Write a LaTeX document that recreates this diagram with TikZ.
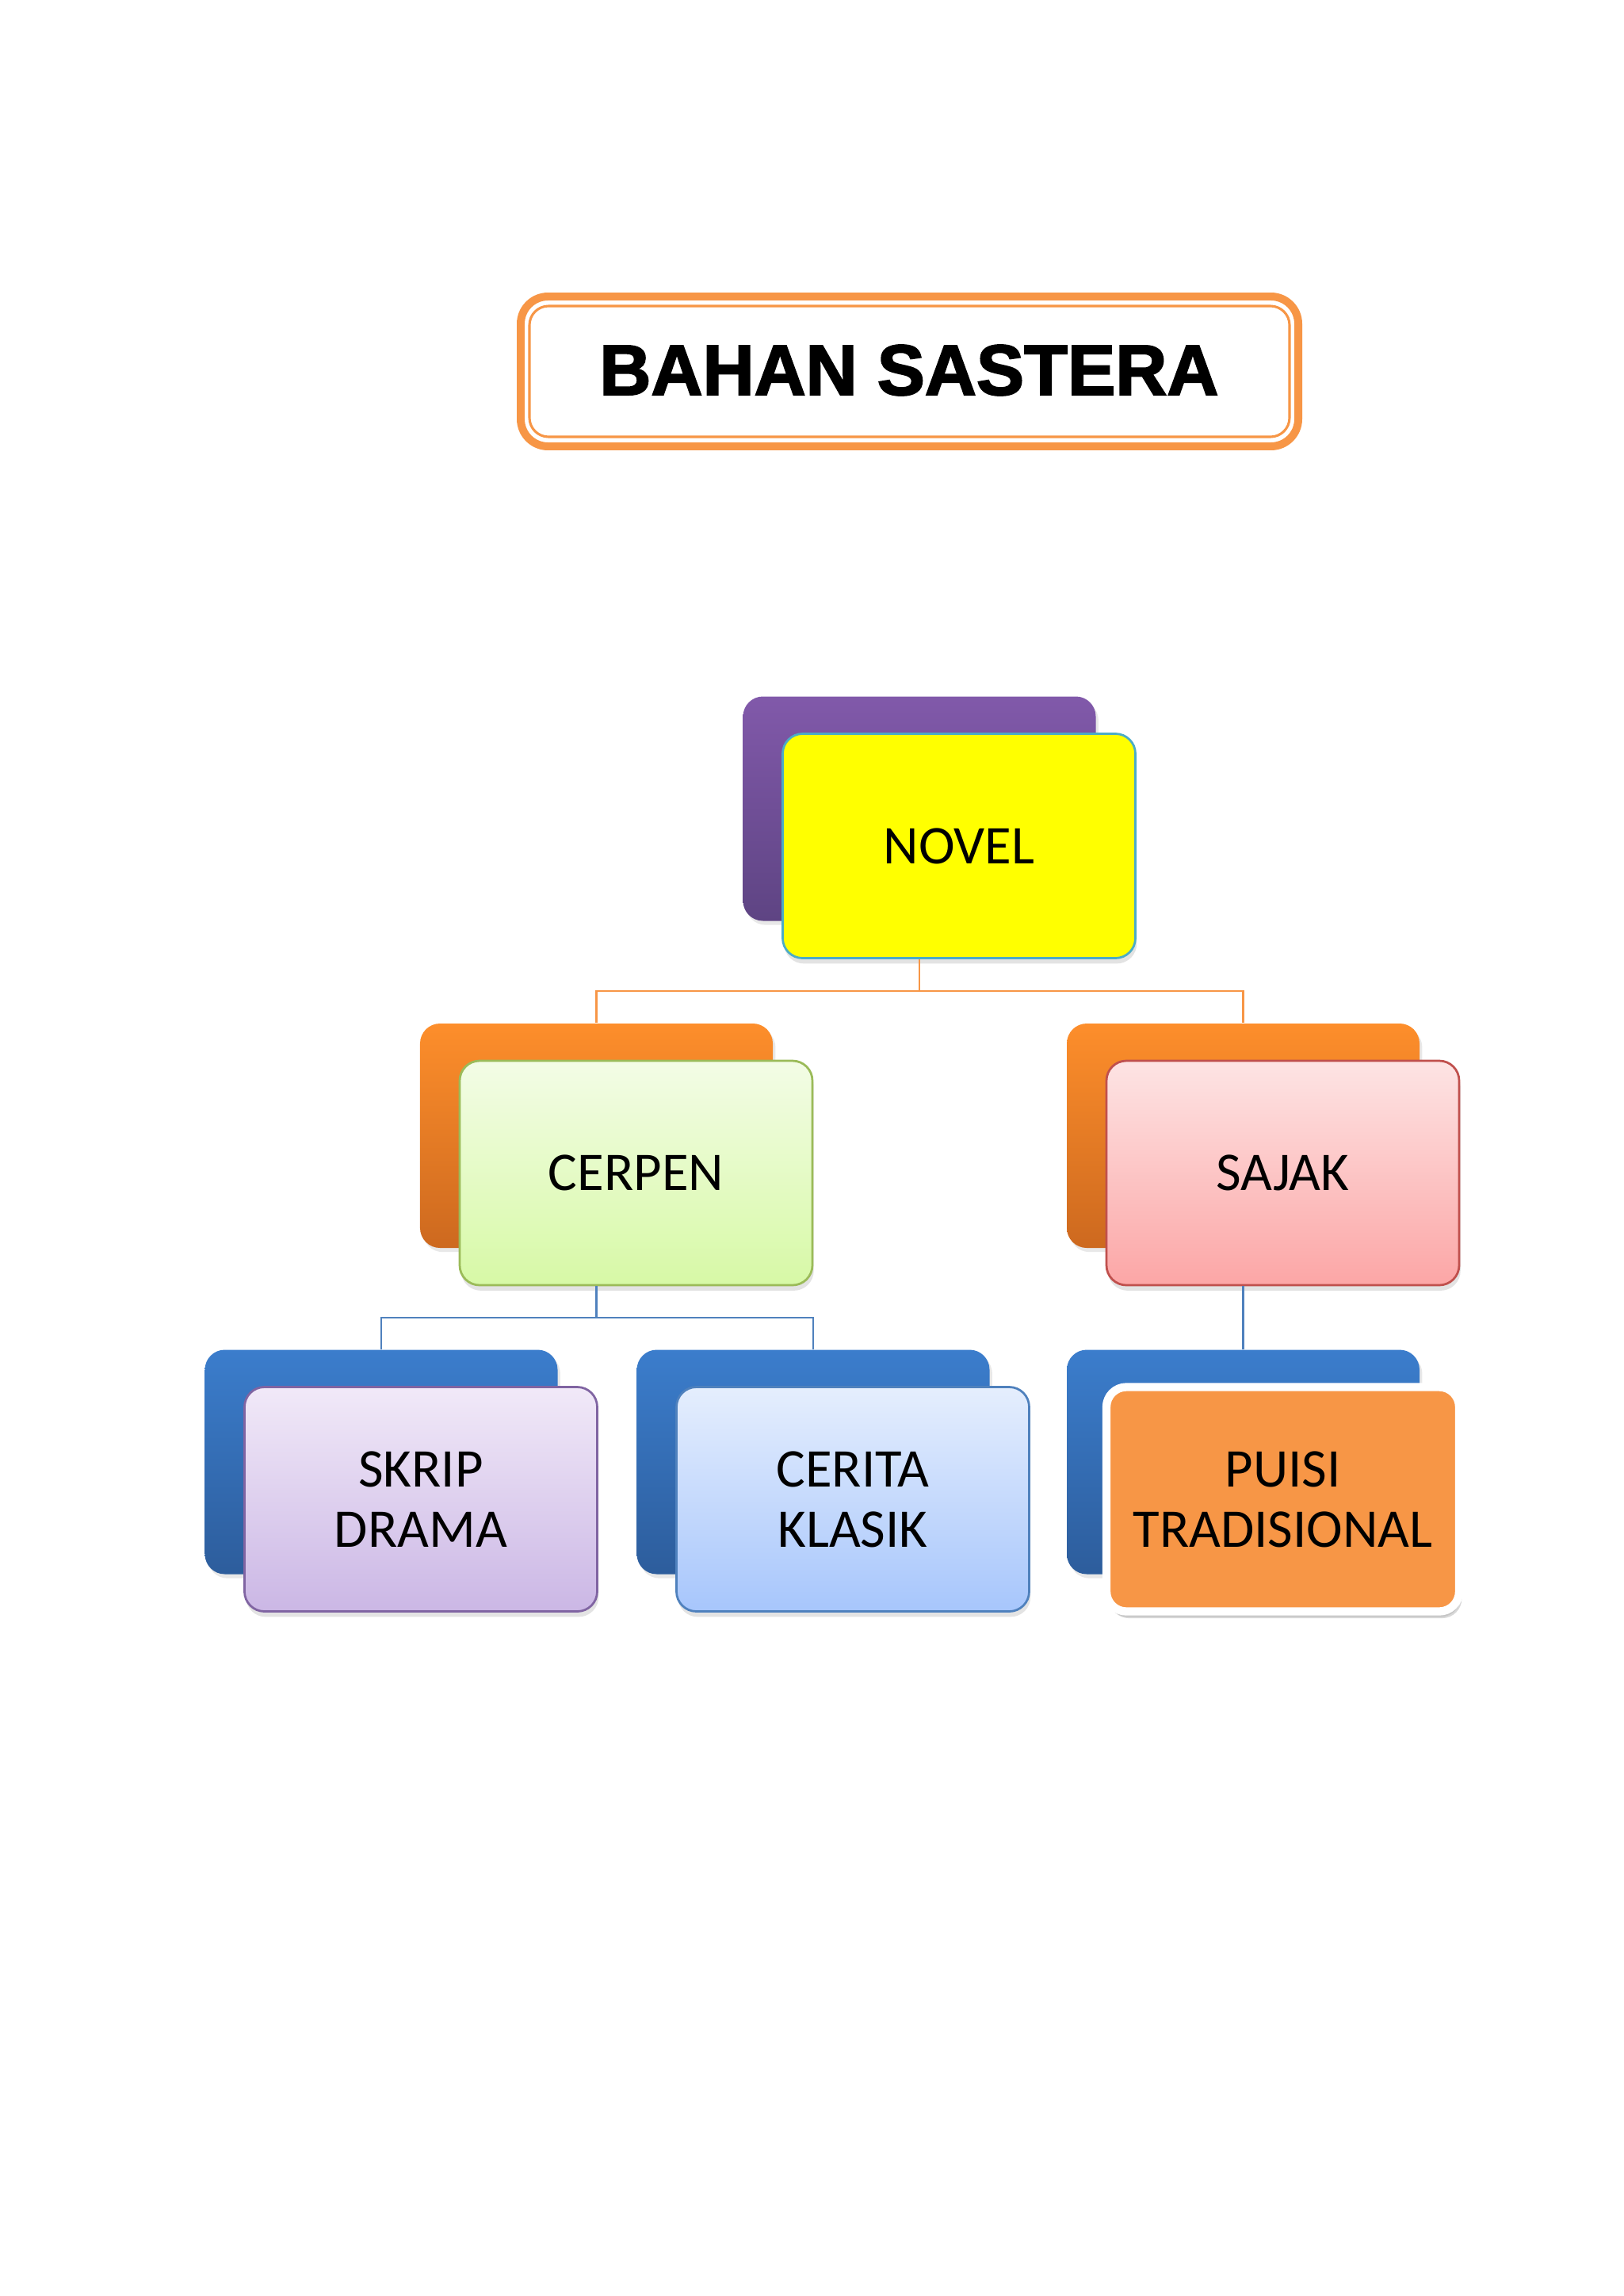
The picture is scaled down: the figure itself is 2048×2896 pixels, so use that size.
\documentclass[tikz,border=0pt]{standalone}
\usepackage{fontspec}
\setmainfont{Carlito}
\newfontfamily\titlefont[FakeBold=2.2]{Liberation Sans Bold}
\usetikzlibrary{shadows,calc}
\definecolor{ttlorange}{HTML}{F79646}
\definecolor{purpT}{HTML}{8159AA}
\definecolor{purpB}{HTML}{5E4483}
\definecolor{oranT}{HTML}{FD8E2B}
\definecolor{oranB}{HTML}{CD691F}
\definecolor{bluT}{HTML}{3B7DCC}
\definecolor{bluB}{HTML}{2D5D9C}
\definecolor{novelfill}{HTML}{FFFF00}
\definecolor{novelbd}{HTML}{4BACC6}
\definecolor{greenT}{HTML}{F3FCE6}
\definecolor{greenB}{HTML}{D7F9A6}
\definecolor{greenbd}{HTML}{9BBB59}
\definecolor{pinkT}{HTML}{FDE4E4}
\definecolor{pinkB}{HTML}{FCA6A6}
\definecolor{pinkbd}{HTML}{C0504D}
\definecolor{lavT}{HTML}{F1E9F8}
\definecolor{lavB}{HTML}{CBB7E5}
\definecolor{lavbd}{HTML}{8064A2}
\definecolor{lbT}{HTML}{E5EEFD}
\definecolor{lbB}{HTML}{A7C6FC}
\definecolor{lbbd}{HTML}{4F81BD}
\definecolor{puisi}{HTML}{F79646}
\definecolor{lineblue}{HTML}{4F81BD}
\tikzset{
  basebox/.style={rectangle, rounded corners=7.3pt, minimum width=129.35pt,
    minimum height=82.26pt, inner sep=0pt, align=center},
  backbox/.style={basebox, drop shadow={shadow xshift=1pt, shadow yshift=-1.5pt, opacity=0.18}},
  frontbox/.style={basebox, line width=0.8pt,
    font=\fontsize{20}{22.1}\selectfont,
    drop shadow={shadow xshift=0.5pt, shadow yshift=-2pt, opacity=0.22}},
  oline/.style={draw=ttlorange, line width=0.7pt},
  bline/.style={draw=lineblue, line width=0.7pt}
}
\begin{document}
\begin{tikzpicture}[x=0.29067pt,y=-0.29067pt]
\useasboundingbox[fill=white] (0,0) rectangle (2048,2896);

% title
\draw[ttlorange, line width=2.9pt, rounded corners=10pt] (657,374) rectangle (1638,563);
\draw[ttlorange, line width=0.9pt, rounded corners=7pt] (668,386) rectangle (1627,551);
\node[font=\titlefont\fontsize{26.2}{30}\selectfont] (title) at (1147,467) {BAHAN SASTERA};

% level 1
\node[backbox, top color=purpT, bottom color=purpB] (nb) at (1160,1020) {};
\node[frontbox, fill=novelfill, draw=novelbd] (nf) at (1210,1067) {NOVEL};

% level 2
\node[backbox, top color=oranT, bottom color=oranB] (cb) at (752.5,1432.5) {};
\node[frontbox, top color=greenT, bottom color=greenB, draw=greenbd] (cf) at (802.5,1479.5) {CERPEN};
\node[backbox, top color=oranT, bottom color=oranB] (sb) at (1568.5,1432.5) {};
\node[frontbox, top color=pinkT, bottom color=pinkB, draw=pinkbd] (sf) at (1618.5,1479.5) {SAJAK};

% level 3
\node[backbox, top color=bluT, bottom color=bluB] (db) at (481,1844) {};
\node[frontbox, top color=lavT, bottom color=lavB, draw=lavbd] (df) at (531,1891) {SKRIP\\DRAMA};
\node[backbox, top color=bluT, bottom color=bluB] (kb) at (1026,1844) {};
\node[frontbox, top color=lbT, bottom color=lbB, draw=lbbd] (kf) at (1076,1891) {CERITA\\KLASIK};
\node[backbox, top color=bluT, bottom color=bluB] (pb) at (1568.5,1844) {};
\node[frontbox, fill=puisi, draw=white, line width=3pt,
  drop shadow={shadow xshift=1pt, shadow yshift=-2.5pt, opacity=0.3}] (pf) at (1618.5,1891) {PUISI\\TRADISIONAL};

% connectors
\coordinate (j1) at (0,1250);
\coordinate (j2) at (0,1662);
\draw[oline] (nf.south -| nb.center) -- (nb.center |- j1) -| (cb.north);
\draw[oline] (nb.center |- j1) -| (sb.north);
\draw[bline] (cf.south -| cb.center) -- (cb.center |- j2) -| (db.north);
\draw[bline] (cb.center |- j2) -| (kb.north);
\draw[bline] (sf.south -| sb.center) -- (pb.north);
\end{tikzpicture}
\end{document}
